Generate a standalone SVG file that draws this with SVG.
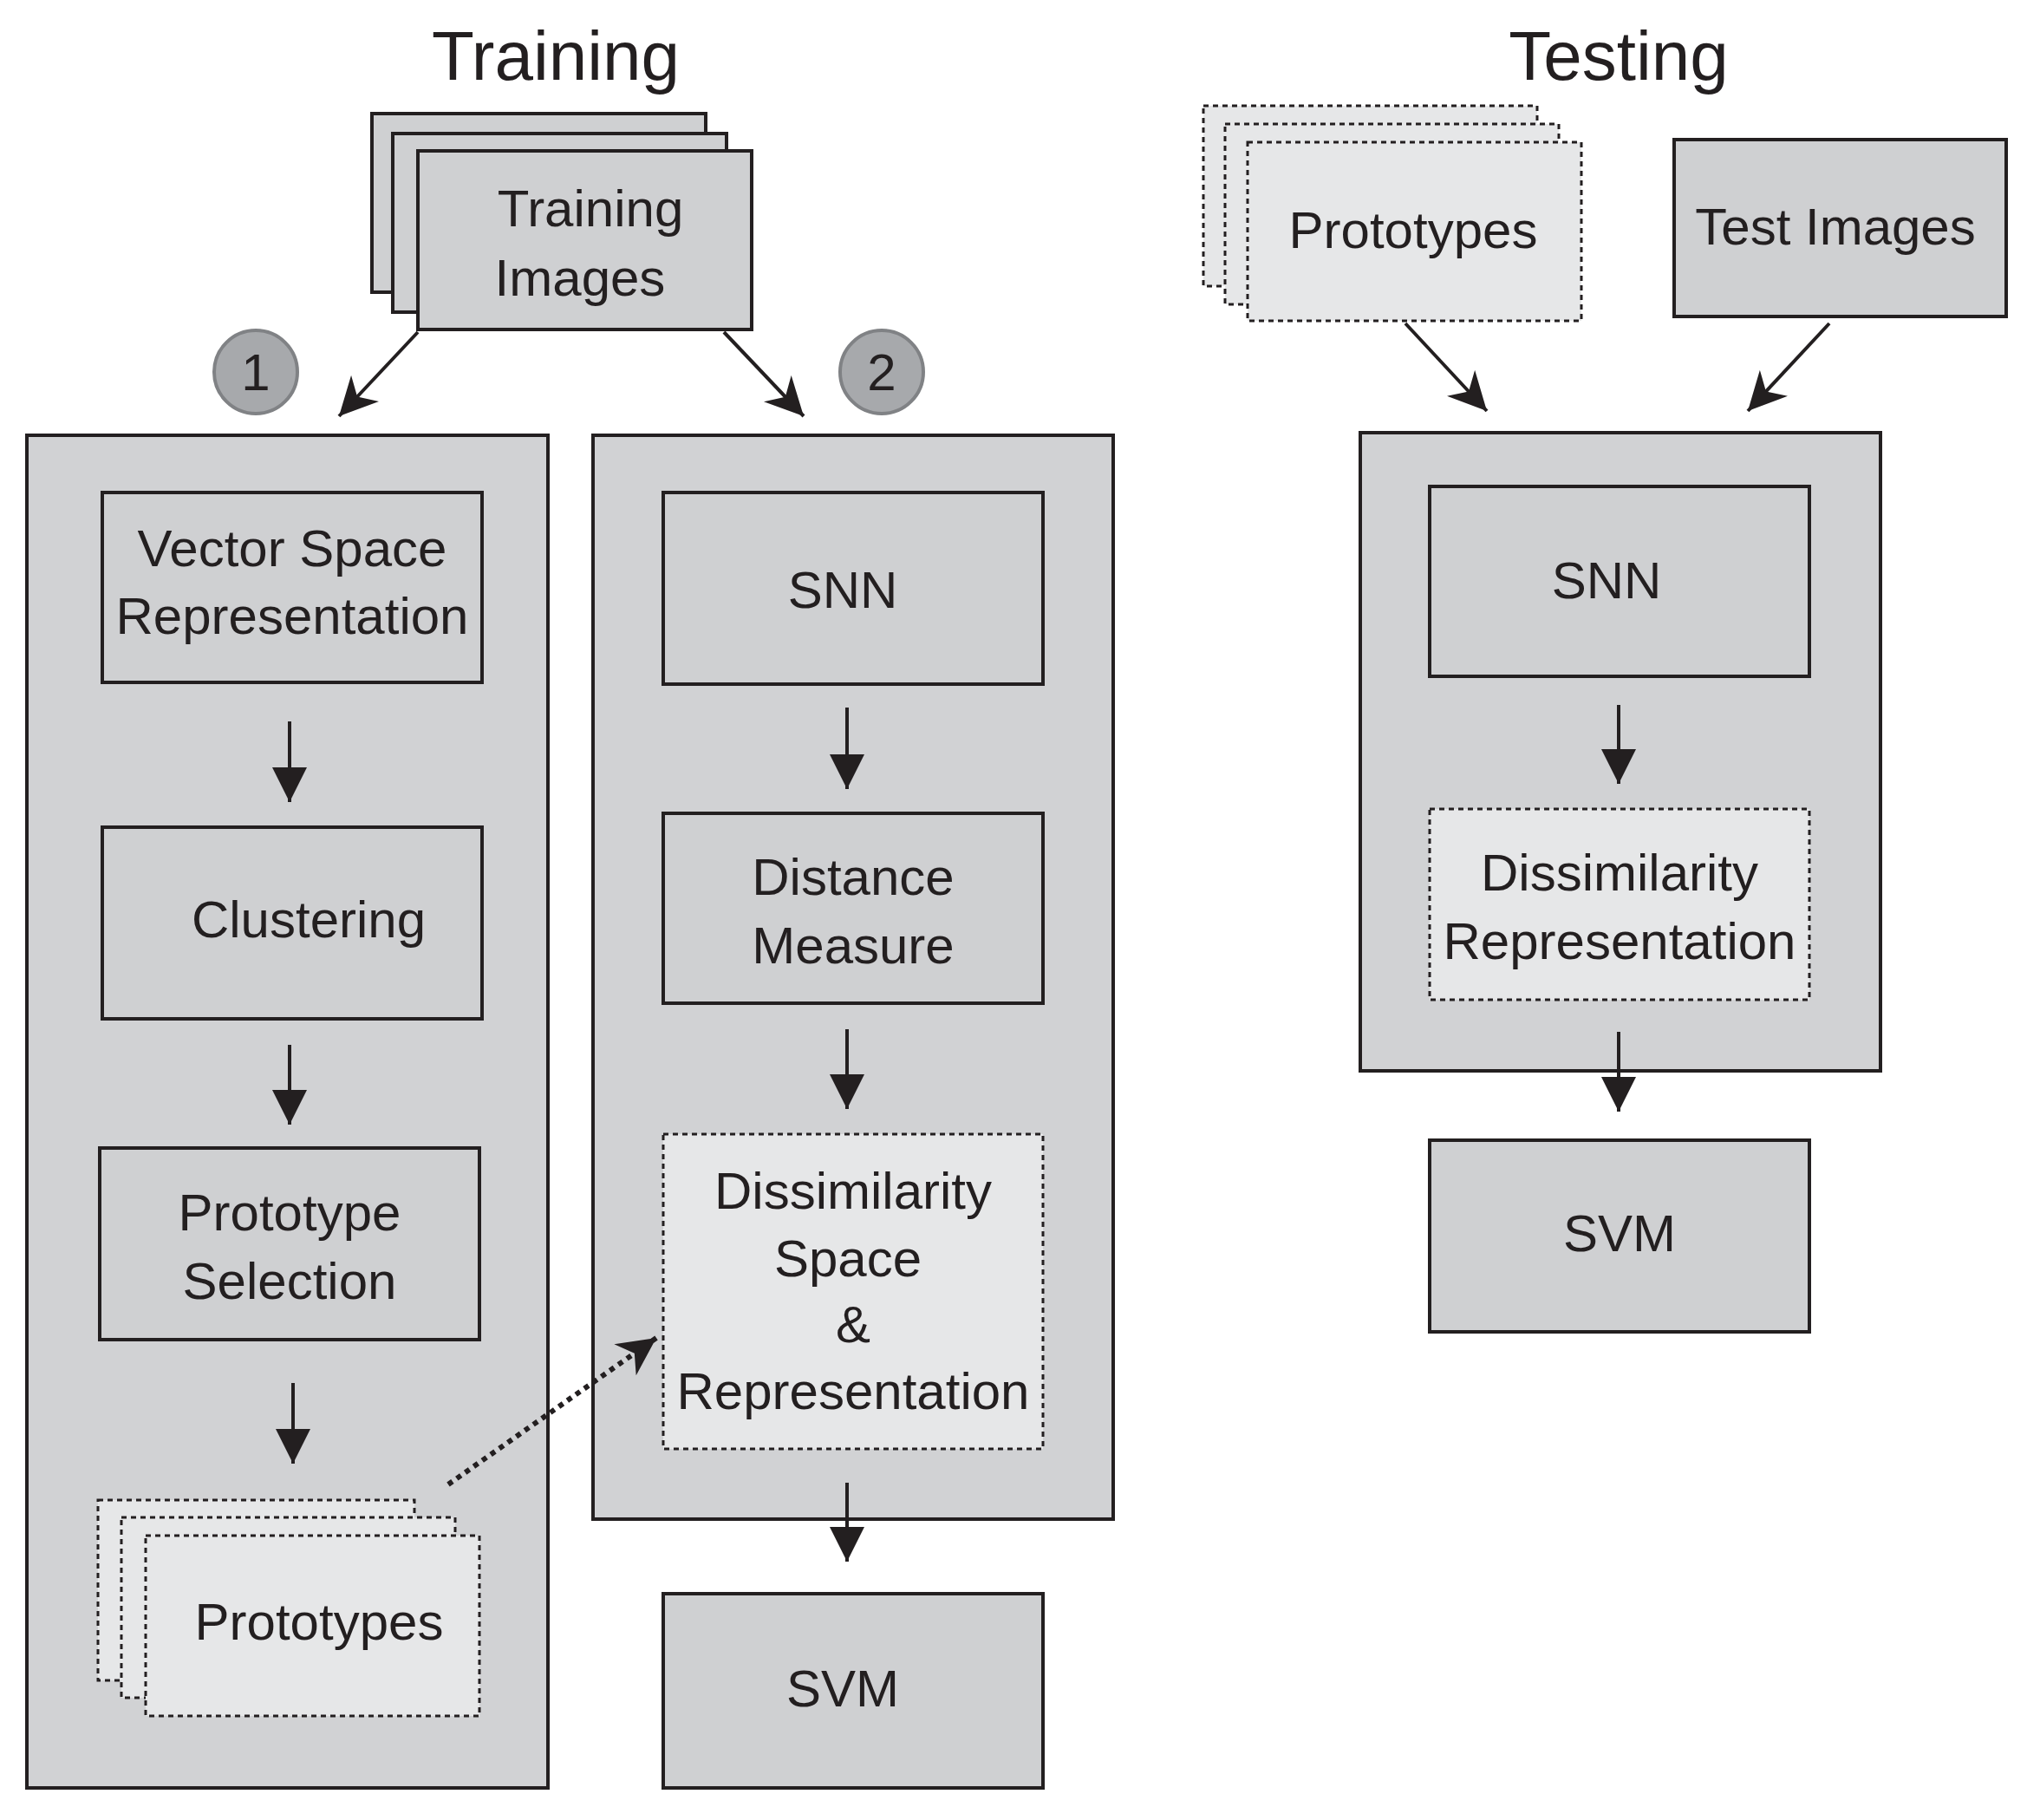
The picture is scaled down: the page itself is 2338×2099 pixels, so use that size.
<svg xmlns="http://www.w3.org/2000/svg" width="2338" height="2099" viewBox="0 0 2338 2099">
<defs>
<style>
.panel{fill:#d1d2d4;stroke:#231f20;stroke-width:4}
.box{fill:#cfd0d2;stroke:#231f20;stroke-width:4}
.dot{fill:#e6e7e8;stroke:#231f20;stroke-width:3;stroke-dasharray:6 5}
.dotb{fill:#e6e7e8;stroke:#231f20;stroke-width:3;stroke-dasharray:6 5}
.circ{fill:#a7a9ac;stroke:#808285;stroke-width:4}
text{font-family:"Liberation Sans",Arial,sans-serif;fill:#231f20;text-anchor:middle}
.t{font-size:60px}
.h{font-size:80px}
.c{stroke:#231f20;stroke-width:4;fill:none}
.cd{stroke:#231f20;stroke-width:6;fill:none;stroke-dasharray:6 6}
</style>
<marker id="ah" viewBox="0 0 10 10" refX="10" refY="5" markerWidth="11" markerHeight="11" markerUnits="userSpaceOnUse" orient="auto" style="overflow:visible">
<path d="M0,0 L10,5 L0,10 L3,5 Z" fill="#231f20" transform="scale(4)"/>
</marker>
<marker id="av" viewBox="0 0 10 10" refX="10" refY="5" markerWidth="40" markerHeight="40" markerUnits="userSpaceOnUse" orient="auto">
<path d="M0,0 L10,5 L0,10 Z" fill="#231f20"/>
</marker>
<marker id="ad" viewBox="0 0 10 10" refX="10" refY="5" markerWidth="44" markerHeight="44" markerUnits="userSpaceOnUse" orient="auto">
<path d="M0,0 L10,5 L0,10 L3,5 Z" fill="#231f20"/>
</marker>
</defs>
<rect width="2338" height="2099" fill="#ffffff"/>
<text class="h" x="641" y="92">Training</text>
<text class="h" x="1867" y="92">Testing</text>

<g id="training-images">
<rect class="box" x="429" y="131" width="385" height="206"/>
<rect class="box" x="453" y="154" width="385" height="206"/>
<rect class="box" x="482" y="174" width="385" height="206"/>
<text class="t" x="681" y="261">Training</text>
<text class="t" x="669" y="341">Images</text>
</g>
<g id="step1"><circle class="circ" cx="295" cy="429" r="48"/><text class="t" x="295" y="450">1</text></g>
<g id="step2"><circle class="circ" cx="1017" cy="429" r="48"/><text class="t" x="1017" y="450">2</text></g>

<g id="panel-left"><rect class="panel" x="31" y="502" width="601" height="1560"/></g>
<g id="panel-mid"><rect class="panel" x="684" y="502" width="600" height="1250"/></g>
<g id="panel-test"><rect class="panel" x="1569" y="499" width="600" height="736"/></g>

<g id="vsr"><rect class="box" x="118" y="568" width="438" height="219"/>
<text class="t" x="337" y="653">Vector Space</text><text class="t" x="337" y="731">Representation</text></g>
<g id="clustering"><rect class="box" x="118" y="954" width="438" height="221"/>
<text class="t" x="356" y="1081">Clustering</text></g>
<g id="protosel"><rect class="box" x="115" y="1324" width="438" height="221"/>
<text class="t" x="334" y="1419">Prototype</text><text class="t" x="334" y="1498">Selection</text></g>
<g id="prototypes-left">
<rect class="dot" x="113" y="1730" width="365" height="208"/>
<rect class="dot" x="140" y="1750" width="385" height="208"/>
<rect class="dot" x="168" y="1771" width="385" height="208"/>
<text class="t" x="368" y="1891">Prototypes</text></g>

<g id="snn-mid"><rect class="box" x="765" y="568" width="438" height="221"/>
<text class="t" x="972" y="701">SNN</text></g>
<g id="distance"><rect class="box" x="765" y="938" width="438" height="219"/>
<text class="t" x="984" y="1032">Distance</text><text class="t" x="984" y="1111">Measure</text></g>
<g id="dissim-space"><rect class="dot" x="765" y="1308" width="438" height="363"/>
<text class="t" x="984" y="1394">Dissimilarity</text><text class="t" x="978" y="1472">Space</text>
<text class="t" x="984" y="1548">&amp;</text><text class="t" x="984" y="1625">Representation</text></g>
<g id="svm-mid"><rect class="box" x="765" y="1838" width="438" height="224"/>
<text class="t" x="972" y="1968">SVM</text></g>

<g id="prototypes-test">
<rect class="dot" x="1388" y="122" width="385" height="208"/>
<rect class="dot" x="1413" y="143" width="385" height="208"/>
<rect class="dot" x="1439" y="164" width="385" height="206"/>
<text class="t" x="1630" y="286">Prototypes</text></g>
<g id="test-images"><rect class="box" x="1931" y="161" width="383" height="204"/>
<text class="t" x="2117" y="282">Test Images</text></g>
<g id="snn-test"><rect class="box" x="1649" y="561" width="438" height="219"/>
<text class="t" x="1853" y="690">SNN</text></g>
<g id="dissim-rep"><rect class="dot" x="1649" y="933" width="438" height="220"/>
<text class="t" x="1868" y="1027">Dissimilarity</text><text class="t" x="1868" y="1106">Representation</text></g>
<g id="svm-test"><rect class="box" x="1649" y="1315" width="438" height="221"/>
<text class="t" x="1868" y="1443">SVM</text></g>

<g id="connectors">
<line class="c" x1="482" y1="383" x2="391" y2="480" marker-end="url(#ad)"/>
<line class="c" x1="835" y1="383" x2="927" y2="480" marker-end="url(#ad)"/>
<line class="c" x1="1621" y1="373" x2="1715" y2="474" marker-end="url(#ad)"/>
<line class="c" x1="2110" y1="373" x2="2016" y2="474" marker-end="url(#ad)"/>
<line class="c" x1="334" y1="832" x2="334" y2="925" marker-end="url(#av)"/>
<line class="c" x1="334" y1="1205" x2="334" y2="1297" marker-end="url(#av)"/>
<line class="c" x1="338" y1="1595" x2="338" y2="1688" marker-end="url(#av)"/>
<line class="c" x1="977" y1="816" x2="977" y2="910" marker-end="url(#av)"/>
<line class="c" x1="977" y1="1187" x2="977" y2="1279" marker-end="url(#av)"/>
<line class="c" x1="977" y1="1710" x2="977" y2="1801" marker-end="url(#av)"/>
<line class="c" x1="1867" y1="813" x2="1867" y2="904" marker-end="url(#av)"/>
<line class="c" x1="1867" y1="1190" x2="1867" y2="1282" marker-end="url(#av)"/>
<line class="cd" x1="517" y1="1712" x2="757" y2="1543" marker-end="url(#ad)"/>
</g>
</svg>
